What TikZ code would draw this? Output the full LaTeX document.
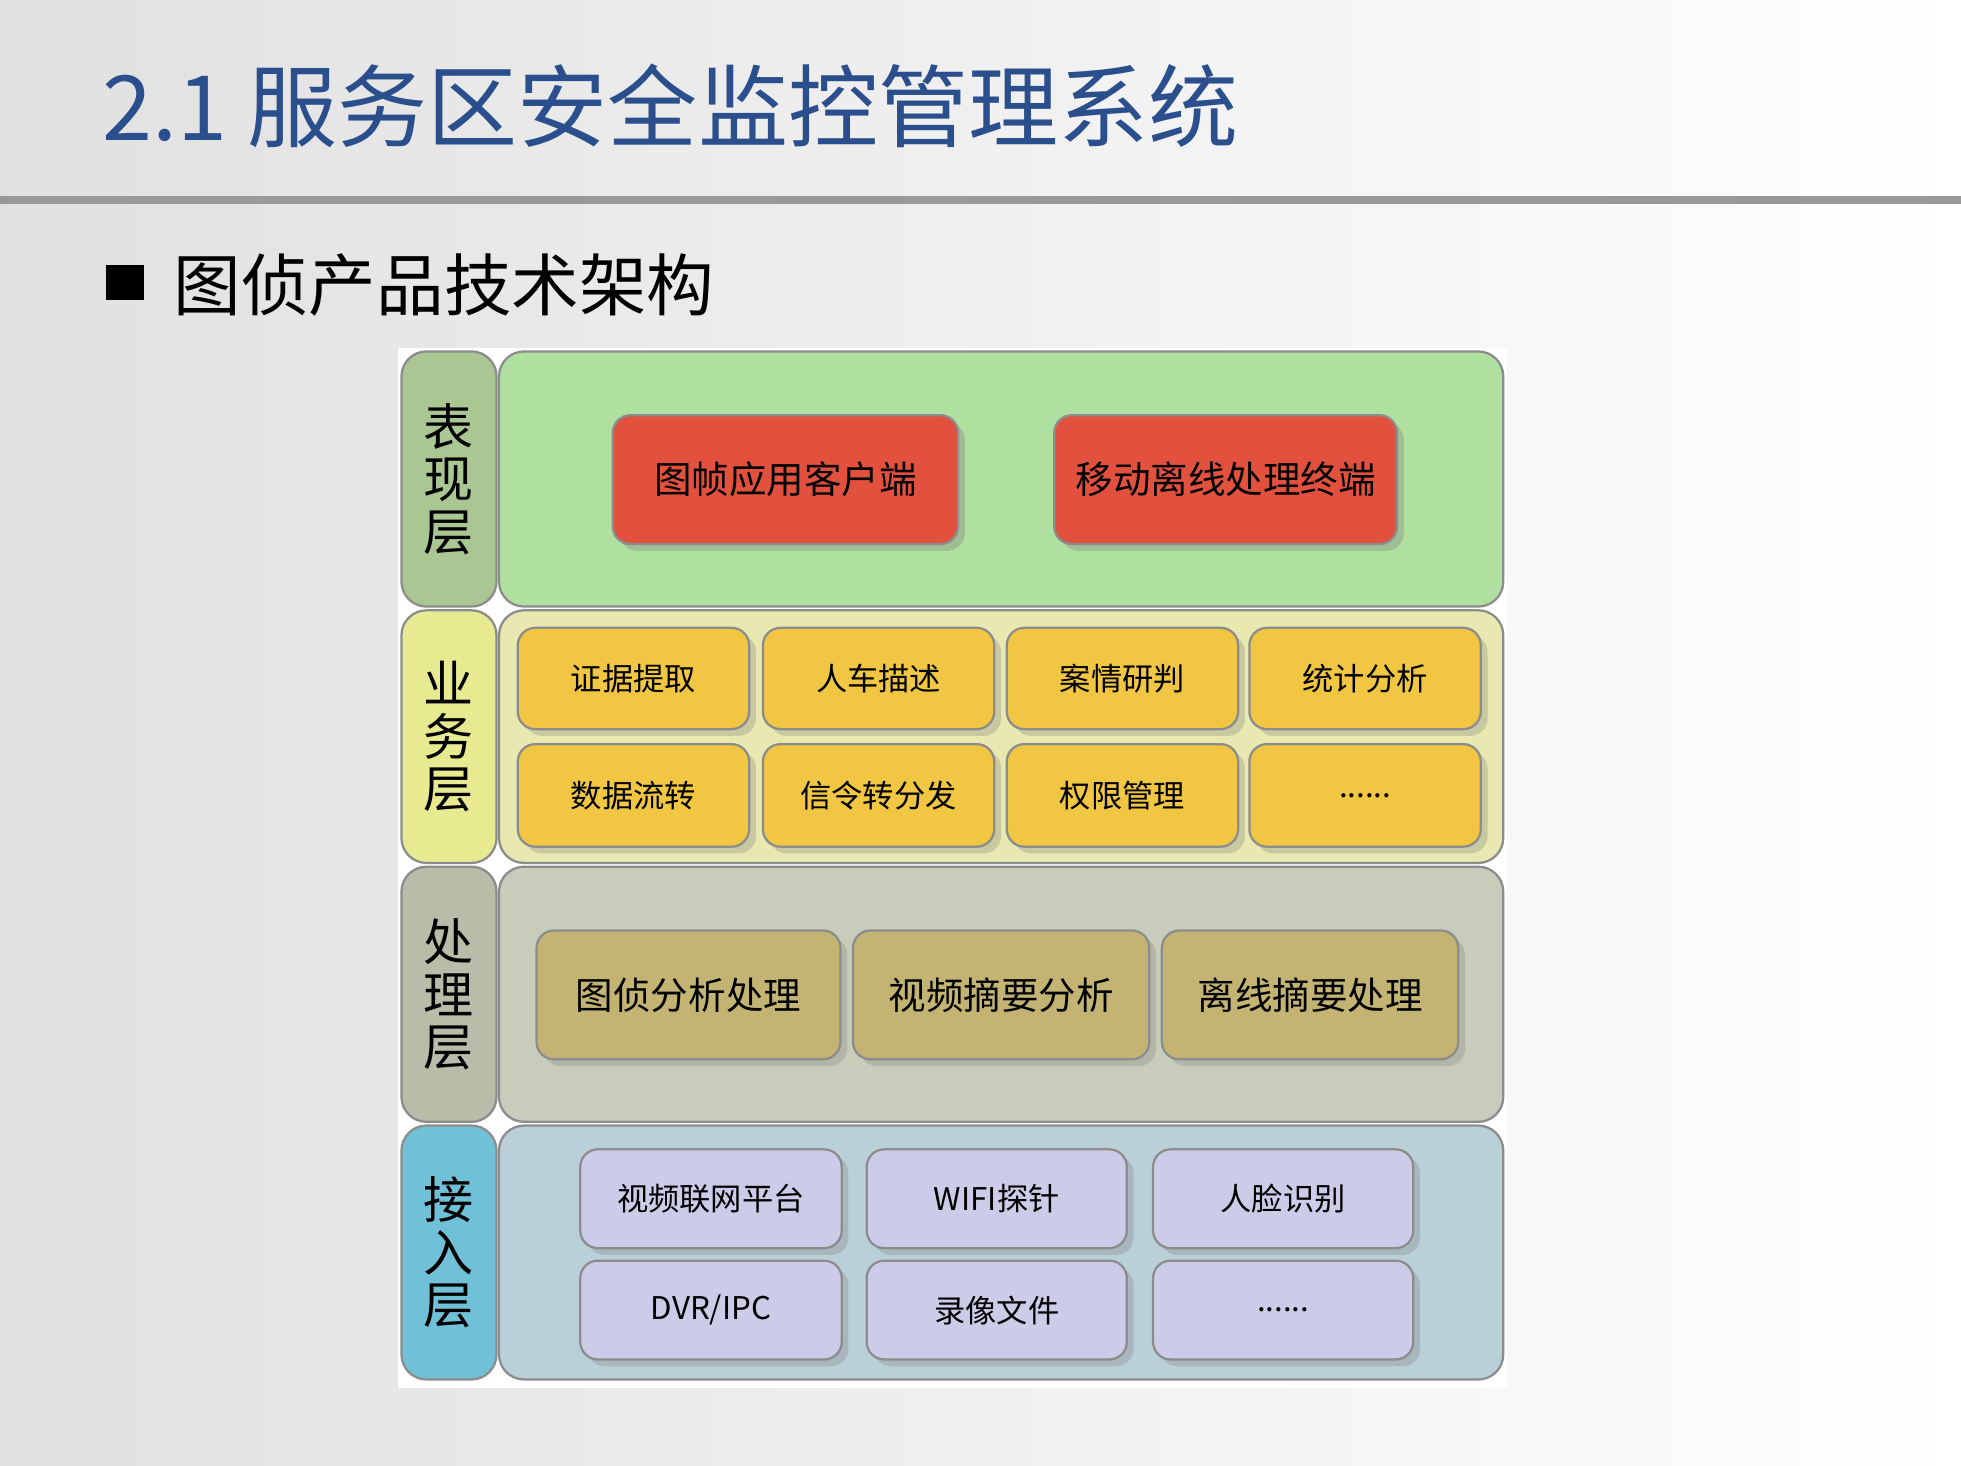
\documentclass[tikz,border=0pt]{standalone}
\usepackage{fontspec}
\setmainfont{Noto Sans CJK SC}
\usetikzlibrary{shadows}
\definecolor{titleblue}{HTML}{2B4F8C}
\tikzset{
 base/.style={draw=black!45,line width=0.9pt,rounded corners=7pt,inner sep=0pt},
 redb/.style={base,fill={rgb,255:red,226;green,80;blue,62},drop shadow={opacity=0.35},font=\fontsize{15}{18}\selectfont},
 yelb/.style={base,fill={rgb,255:red,241;green,198;blue,66},drop shadow={opacity=0.3},font=\fontsize{12.5}{15}\selectfont},
 oliveb/.style={base,fill={rgb,255:red,196;green,180;blue,116},drop shadow={opacity=0.3},font=\fontsize{15}{18}\selectfont},
 lavb/.style={base,fill={rgb,255:red,204;green,204;blue,232},drop shadow={opacity=0.3},font=\fontsize{12.5}{15}\selectfont},
 panel/.style={base,rounded corners=10pt},
 lab/.style={panel,align=center,font=\fontsize{20}{21}\selectfont},
}
\newcommand\bx[7]{\node[#2,minimum width={(#5-#3)*0.5pt},minimum height={(#6-#4)*0.5pt}] (#1) at ({(#3+#5)/2},{(#4+#6)/2}) {#7};}
\begin{document}
\begin{tikzpicture}[x=0.5pt,y=-0.5pt]
\shade[left color=black!12,right color=white] (0,0) rectangle (1568,1172);
\useasboundingbox (0,0) rectangle (1568,1172);
\fill[black!40] (0,157) rectangle (1568,163);
\node[anchor=west,text=titleblue,font=\fontsize{36}{40}\selectfont] (title) at (75,85) {2.1 服务区安全监控管理系统};
\fill (85,212) rectangle (115,240);
\node[anchor=west,font=\fontsize{27}{30}\selectfont] (sub) at (132,228) {图侦产品技术架构};
\fill[white] (318,278) rectangle (1205,1110);
% left labels
\bx{l1}{lab,fill={rgb,255:red,170;green,198;blue,146}}{321}{281}{397}{485}{表\\现\\层}
\bx{l2}{lab,fill={rgb,255:red,232;green,234;blue,146}}{321}{488}{397}{690}{业\\务\\层}
\bx{l3}{lab,fill={rgb,255:red,184;green,188;blue,168}}{321}{693}{397}{897}{处\\理\\层}
\bx{l4}{lab,fill={rgb,255:red,112;green,192;blue,216}}{321}{900}{397}{1103}{接\\入\\层}
% panels
\bx{p1}{panel,fill={rgb,255:red,176;green,224;blue,160}}{399}{281}{1202}{485}{}
\bx{p2}{panel,fill={rgb,255:red,232;green,232;blue,176}}{399}{488}{1202}{690}{}
\bx{p3}{panel,fill={rgb,255:red,200;green,204;blue,186}}{399}{693}{1202}{897}{}
\bx{p4}{panel,fill={rgb,255:red,186;green,208;blue,216}}{399}{900}{1202}{1103}{}
% red
\bx{r1}{redb}{490}{332}{766}{435}{图帧应用客户端}
\bx{r2}{redb}{843}{332}{1117}{435}{移动离线处理终端}
% yellow
\bx{y1}{yelb}{414}{502}{599}{583}{证据提取}
\bx{y2}{yelb}{610}{502}{795}{583}{人车描述}
\bx{y3}{yelb}{805}{502}{990}{583}{案情研判}
\bx{y4}{yelb}{999}{502}{1184}{583}{统计分析}
\bx{y5}{yelb}{414}{595}{599}{677}{数据流转}
\bx{y6}{yelb}{610}{595}{795}{677}{信令转分发}
\bx{y7}{yelb}{805}{595}{990}{677}{权限管理}
\bx{y8}{yelb}{999}{595}{1184}{677}{......}
% olive
\bx{o1}{oliveb}{429}{744}{672}{847}{图侦分析处理}
\bx{o2}{oliveb}{682}{744}{919}{847}{视频摘要分析}
\bx{o3}{oliveb}{929}{744}{1166}{847}{离线摘要处理}
% lavender
\bx{v1}{lavb}{464}{919}{673}{998}{视频联网平台}
\bx{v2}{lavb}{693}{919}{901}{998}{WIFI探针}
\bx{v3}{lavb}{922}{919}{1130}{998}{人脸识别}
\bx{v4}{lavb}{464}{1008}{673}{1087}{DVR/IPC}
\bx{v5}{lavb}{693}{1008}{901}{1087}{录像文件}
\bx{v6}{lavb}{922}{1008}{1130}{1087}{......}
\end{tikzpicture}
\end{document}
